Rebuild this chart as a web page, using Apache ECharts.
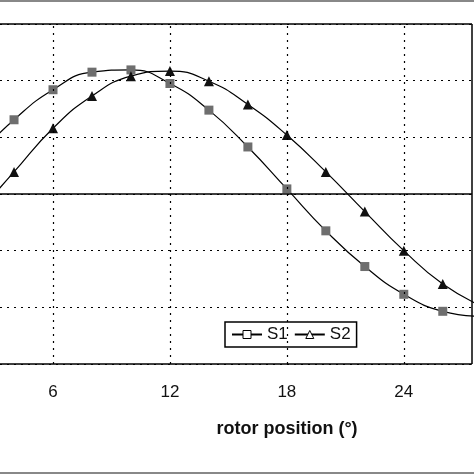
<!DOCTYPE html>
<html><head><meta charset="utf-8">
<script src="https://cdn.jsdelivr.net/npm/echarts@6/dist/echarts.min.js"></script>
<style>html,body{margin:0;padding:0;background:#fff}#c{width:474px;height:474px}</style>
</head><body><div id="c"></div>
<script>
const xPos = [0,2,4,6,8,10,12,14,16,18,20,22,24,26,28];
const s1 = [-0.04,0.64,1.31,1.84,2.15,2.19,1.95,1.48,0.83,0.09,-0.65,-1.28,-1.77,-2.07,-2.16];
const s2 = [-1.1,-0.38,0.39,1.16,1.73,2.08,2.17,1.99,1.58,1.04,0.39,-0.31,-1.0,-1.59,-1.98];
const xTicks = [6,12,18,24];
const chart = echarts.init(document.getElementById('c'));
const pair = a => xPos.map((x,i)=>[x,a[i]]);
const dotted = {color:'#000',type:[2,5],width:1.2};
const solid = {color:'#000',type:'solid',width:1.5};
chart.setOption({
  animation:false,
  grid:{left:0,top:24,width:472,height:340,show:false},
  xAxis:{type:'value',min:3.28,max:27.5,
    axisLine:{show:false},axisTick:{show:false},splitLine:{show:false},
    axisLabel:{margin:20,fontSize:17,color:'#111',fontFamily:'Liberation Sans',customValues:xTicks},
    name:'rotor position (°)',nameLocation:'middle',nameGap:56,
    nameTextStyle:{fontSize:18,fontWeight:'bold',color:'#111',fontFamily:'Liberation Sans',padding:[0,0,0,102]}},
  yAxis:{type:'value',min:-3,max:3,interval:1,axisLine:{show:false},axisTick:{show:false},axisLabel:{show:false},
    splitLine:{lineStyle:dotted}},
  legend:{left:225,top:322,itemWidth:30,itemHeight:10,itemGap:6,padding:[4,6],
    borderColor:'#000',borderWidth:1.5,backgroundColor:'#fff',
    textStyle:{fontSize:17,color:'#111',fontFamily:'Liberation Sans'},
    data:[{name:'S1',itemStyle:{color:'#fff',borderColor:'#000',borderWidth:1}},
          {name:'S2',itemStyle:{color:'#fff',borderColor:'#000',borderWidth:1}}]},
  series:[
    {name:'S1',type:'line',smooth:true,data:pair(s1),symbol:'rect',symbolSize:9,
      itemStyle:{color:'#6e6e6e'},lineStyle:{color:'#000',width:1.2},z:3,
      markLine:{silent:true,symbol:'none',label:{show:false},
        data:[
          ...xTicks.map(v=>({xAxis:v,lineStyle:dotted})),
          {yAxis:0,lineStyle:solid},{yAxis:3,lineStyle:solid},{yAxis:-3,lineStyle:solid},
          {xAxis:27.5,lineStyle:solid}
        ]}},
    {name:'S2',type:'line',smooth:true,data:pair(s2),symbol:'triangle',symbolSize:10,
      itemStyle:{color:'#111'},lineStyle:{color:'#000',width:1.2},z:3}
  ],
  graphic:[
    {type:'rect',shape:{x:0,y:0,width:474,height:2},style:{fill:'#888'}},
    {type:'rect',shape:{x:0,y:472,width:474,height:2},style:{fill:'#888'}}
  ]
});
</script></body></html>
